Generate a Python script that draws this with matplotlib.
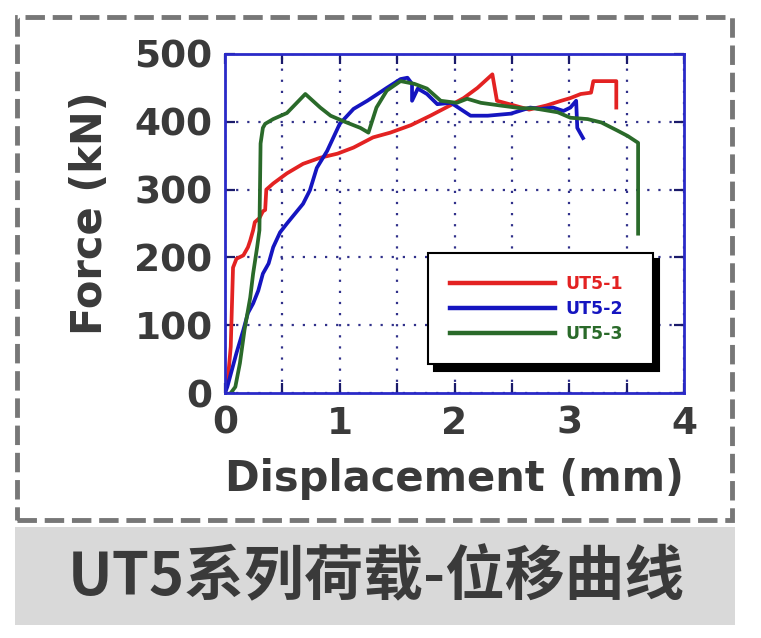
import matplotlib.pyplot as plt
import matplotlib.patches as patches
from matplotlib.ticker import MultipleLocator
import numpy as np

plt.rcParams['font.family'] = ['DejaVu Sans']

# UT5-1
red_x = [0.00, 0.03, 0.05, 0.07, 0.10, 0.16, 0.20, 0.22, 0.245, 0.26, 0.30, 0.33, 0.35, 0.36,
         0.42, 0.54, 0.68, 0.83, 0.98, 1.12, 1.29, 1.44, 1.62, 1.79, 1.96, 2.08, 2.20, 2.33,
         2.37, 2.50, 2.65, 2.80, 2.93, 3.01, 3.10, 3.19, 3.21, 3.41, 3.41]
red_y = [0, 30, 68, 185, 198, 203, 215, 225, 240, 252, 258, 268, 270, 300,
         309, 324, 338, 347, 353, 362, 377, 384, 395, 409, 424, 435, 450, 470,
         431, 425, 418, 424, 431, 435, 441, 443, 460, 460, 421]
# UT5-2
blue_x = [0.00, 0.02, 0.06, 0.10, 0.16, 0.20, 0.245, 0.29, 0.33, 0.38, 0.42, 0.48, 0.54,
          0.68, 0.74, 0.80, 0.89, 1.00, 1.12, 1.24, 1.33, 1.41, 1.53, 1.59, 1.63, 1.63,
          1.68, 1.76, 1.85, 1.97, 2.05, 2.14, 2.29, 2.49, 2.66, 2.75, 2.86, 2.95, 3.01,
          3.06, 3.07, 3.10, 3.12]
blue_y = [0, 9, 34, 59, 93, 118, 132, 151, 176, 191, 215, 237, 250,
          279, 299, 332, 357, 397, 419, 431, 441, 450, 463, 465, 456, 431,
          449, 441, 426, 428, 419, 409, 409, 412, 421, 419, 421, 416, 421,
          431, 391, 382, 376]
# UT5-3
green_x = [0.05, 0.09, 0.13, 0.17, 0.22, 0.245, 0.28, 0.30, 0.31, 0.33, 0.35, 0.42, 0.54,
           0.70, 0.83, 0.92, 1.03, 1.18, 1.25, 1.32, 1.41, 1.53, 1.65, 1.76, 1.88, 2.02,
           2.11, 2.23, 2.40, 2.58, 2.69, 2.90, 3.01, 3.16, 3.28, 3.42, 3.51, 3.60, 3.60]
green_y = [0, 9, 44, 93, 141, 176, 215, 240, 368, 391, 397, 404, 413,
           441, 421, 409, 401, 391, 384, 421, 446, 460, 456, 449, 431, 428,
           434, 428, 424, 420, 420, 414, 406, 404, 399, 387, 379, 369, 235]

series_names = ['UT5-1', 'UT5-2', 'UT5-3']
colors = ['#e32222', '#1515c0', '#2a6a2a']
x_ticks = [0, 1, 2, 3, 4]
y_ticks = [0, 100, 200, 300, 400, 500]

text_col = '#3a3a3a'
fig = plt.figure(figsize=(7.61, 6.38), dpi=100)

# outer dashed frame and caption band
fig.patches.append(patches.Rectangle((17 / 761, 1 - 520 / 638), 715 / 761, 503 / 638,
                                     transform=fig.transFigure, fill=False,
                                     edgecolor='#777777', lw=3.5,
                                     linestyle=(0, (4, 1.6))))
fig.patches.append(patches.Rectangle((15 / 761, 1 - 625 / 638), 720 / 761, 98 / 638,
                                     transform=fig.transFigure, facecolor='#d9d9d9',
                                     edgecolor='none'))
fig.text(376 / 761, 1 - 578 / 638, 'UT5系列荷载-位移曲线', ha='center', va='center',
         fontsize=43, fontweight='bold', color=text_col,
         family=['Noto Sans CJK SC', 'DejaVu Sans'])

ax = fig.add_axes([225 / 761, 1 - 393 / 638, 459 / 761, 339 / 638])
for xs, ys, c, n in zip([red_x, blue_x, green_x], [red_y, blue_y, green_y],
                        colors, series_names):
    ax.plot(xs, ys, color=c, lw=2.7, label=n)

ax.set_xlim(0, 4)
ax.set_ylim(0, 500)
ax.set_xticks(x_ticks)
ax.set_yticks(y_ticks)
ax.xaxis.set_minor_locator(MultipleLocator(0.5))
ax.grid(True, which='both', axis='x', color='#30308a', ls=(0, (1, 4)), lw=1.6)
ax.grid(True, which='major', axis='y', color='#30308a', ls=(0, (1, 4)), lw=1.6)
for s in ax.spines.values():
    s.set_color('#2a2ac8')
    s.set_linewidth(2)
ax.tick_params(which='both', direction='in', top=True, right=True,
               color='#1a1a6a', width=1.6, length=7)
ax.tick_params(which='major', labelsize=27, labelcolor=text_col, pad=9)
for lab in ax.get_xticklabels() + ax.get_yticklabels():
    lab.set_fontweight('bold')

ax.set_xlabel('Displacement (mm)', fontsize=30, fontweight='bold', color=text_col)
ax.set_ylabel('Force (kN)', fontsize=30, fontweight='bold', color=text_col)
ax.xaxis.label.set_va('center')
ax.yaxis.label.set_va('center')
ax.xaxis.set_label_coords(0.50, -0.255)
ax.yaxis.set_label_coords(-0.295, 0.53)

leg = ax.legend(loc='upper left', bbox_to_anchor=(0.442, 0.077, 0.49, 0.336),
                mode='expand', borderaxespad=0,
                fancybox=False, frameon=True, edgecolor='black', framealpha=1,
                shadow={'ox': 4.5, 'oy': -4.5, 'color': 'black', 'alpha': 1},
                prop={'weight': 'bold', 'size': 12.5}, handlelength=6.1,
                handletextpad=0.55, labelspacing=0.4, borderpad=1.25, labelcolor=colors)
leg.get_frame().set_linewidth(1.5)
for h in leg.get_lines():
    h.set_linewidth(3.2)

fig.savefig('out.png', dpi=100)
